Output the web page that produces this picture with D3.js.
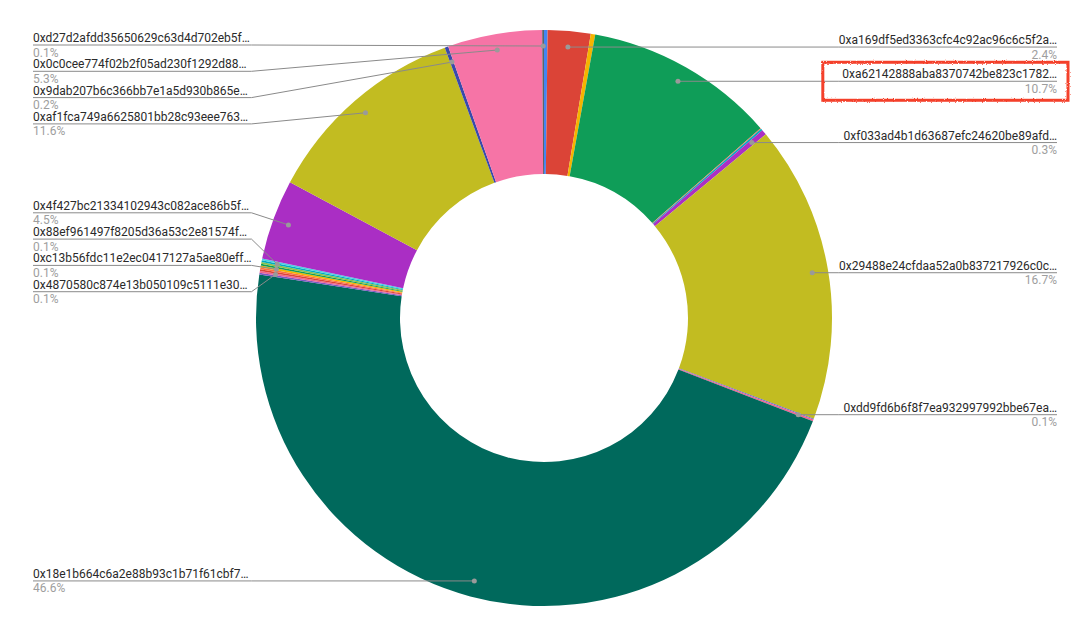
<!DOCTYPE html>
<html>
<head>
<meta charset="utf-8">
<script src="https://cdn.jsdelivr.net/npm/d3@7"></script>
<style>
    body { margin: 0; background: #fff; }
    text { font-family: Roboto, "Noto Sans", sans-serif; }
</style>
</head>
<body>
<svg id="chart" width="1087" height="638"></svg>
<script>
// slices in drawing order, clockwise from 12 o'clock; null = label not shown
const addresses = [
    null,
    "0xa169df5ed3363cfc4c92ac96c6c5f2a…",
    null,
    "0xa62142888aba8370742be823c1782…",
    null,
    null,
    "0xf033ad4b1d63687efc24620be89afd…",
    "0x29488e24cfdaa52a0b837217926c0c…",
    null,
    "0xdd9fd6b6f8f7ea932997992bbe67ea…",
    "0x18e1b664c6a2e88b93c1b71f61cbf7…",
    null,
    "0x4870580c874e13b050109c5111e30…",
    null,
    null,
    "0xc13b56fdc11e2ec0417127a5ae80eff…",
    null,
    null,
    "0x88ef961497f8205d36a53c2e81574f…",
    null,
    "0x4f427bc21334102943c082ace86b5f…",
    "0xaf1fca749a6625801bb28c93eee763…",
    "0x9dab207b6c366bb7e1a5d930b865e…",
    "0x0c0cee774f02b2f05ad230f1292d88…",
    "0xd27d2afdd35650629c63d4d702eb5f…"
];

const shares = [
    0.2, 2.4, 0.25, 10.7, 0.05, 0.1, 0.3, 16.7, 0.05, 0.1, 46.6,
    0.1, 0.1, 0.1, 0.1, 0.1, 0.1, 0.1, 0.1, 0.1,
    4.5, 11.6, 0.2, 5.3, 0.1
];

const palette = [
    "#4285f4", "#db4437", "#f4b400", "#0f9d58", "#ff7043", "#00acc1", "#ab30c4", "#c2bc21",
    "#5c6bc0", "#f06292", "#00695c",
    "#7e57c2", "#f06292", "#db4437", "#ff7043", "#f4b400", "#0f9d58", "#8bc34a", "#00acc1", "#4dd0e1",
    "#aa2ec4", "#c2bc21", "#3949ab", "#f674a6", "#5f6368"
];

let width = 1087, height = 638;
let cx = 544, cy = 318;
let rOuter = 288, rInner = 144, rDot = 272;
let gap = 26.3;
let leftX = 33, rightX = 1057;

let svg = d3.select("#chart");
let total = d3.sum(shares);

let slices = d3.pie().sort(null).value(d => d)(shares);
let arc = d3.arc().innerRadius(rInner).outerRadius(rOuter);

svg.append("g")
    .selectAll("path")
    .data(slices)
    .join("path")
    .attr("transform", `translate(${cx},${cy})`)
    .attr("d", arc)
    .style("fill", (d, i) => palette[i]);

// label anchors
let labels = [];
slices.forEach((d, i) => {
    if (addresses[i] == null) return;
    let a = (d.startAngle + d.endAngle) / 2;
    labels.push({
        name: addresses[i],
        pct: (shares[i] / total * 100).toFixed(1) + "%",
        dx: cx + rDot * Math.sin(a),
        dy: cy - rDot * Math.cos(a),
        side: a < Math.PI ? "right" : "left"
    });
});

// spread labels vertically so they don't overlap
function spread(items, minY) {
    items.sort((a, b) => a.dy - b.dy);
    let clusters = [];
    items.forEach(it => {
        clusters.push({ items: [it] });
        while (clusters.length > 1) {
            let cur = clusters[clusters.length - 1];
            let prev = clusters[clusters.length - 2];
            place(prev, minY); place(cur, minY);
            if (prev.top + prev.items.length * gap > cur.top) {
                prev.items = prev.items.concat(cur.items);
                clusters.pop();
            } else break;
        }
        place(clusters[clusters.length - 1], minY);
    });
    clusters.forEach(c => c.items.forEach((it, k) => it.ly = c.top + k * gap));
}

function place(c, minY) {
    let m = d3.mean(c.items, it => it.dy);
    // groups sit a little above their anchors' mean
    let shift = c.items.length > 1 ? 6 : 0;
    c.top = Math.max(minY, m - shift - (c.items.length - 1) * gap / 2);
}

let minY = cy - rOuter + 15;
spread(labels.filter(l => l.side == "left"), minY);
spread(labels.filter(l => l.side == "right"), minY);

let g_labels = svg.append("g");

let names = g_labels.selectAll(".name")
    .data(labels)
    .join("text")
    .classed("name", true)
    .attr("x", d => d.side == "left" ? leftX : rightX)
    .attr("y", d => d.ly - 3)
    .attr("text-anchor", d => d.side == "left" ? "start" : "end")
    .style("font-size", "12px")
    .style("fill", "#2a2a2a")
    .text(d => d.name);

g_labels.selectAll(".pct")
    .data(labels)
    .join("text")
    .classed("pct", true)
    .attr("x", d => d.side == "left" ? leftX : rightX)
    .attr("y", d => d.ly + 11.5)
    .attr("text-anchor", d => d.side == "left" ? "start" : "end")
    .style("font-size", "12px")
    .style("fill", "#9e9e9e")
    .text(d => d.pct);

let colW = { left: 0, right: 0 };
names.each(function(d) {
    colW[d.side] = Math.max(colW[d.side], this.getComputedTextLength());
});

g_labels.selectAll(".leader")
    .data(labels)
    .join("path")
    .classed("leader", true)
    .attr("d", d => {
        if (d.side == "left") {
            let bx = leftX + colW.left;
            return `M${leftX},${d.ly}H${bx}L${d.dx},${d.dy}`;
        }
        let bx = rightX - colW.right;
        return `M${d.dx},${d.dy}L${bx},${d.ly}H${rightX}`;
    })
    .style("fill", "none")
    .style("stroke", "#8a8a8a")
    .style("stroke-width", 1);

g_labels.selectAll(".dot")
    .data(labels)
    .join("circle")
    .classed("dot", true)
    .attr("cx", d => d.dx)
    .attr("cy", d => d.dy)
    .attr("r", 2.5)
    .style("fill", "#9a9a9a");

// hand-drawn highlight around the 10.7% label
let defs = svg.append("defs");
let rough = defs.append("filter").attr("id", "rough")
    .attr("x", "-5%").attr("y", "-30%").attr("width", "110%").attr("height", "160%");
rough.append("feTurbulence")
    .attr("type", "fractalNoise").attr("baseFrequency", 0.9)
    .attr("numOctaves", 2).attr("seed", 3).attr("result", "noise");
rough.append("feDisplacementMap")
    .attr("in", "SourceGraphic").attr("in2", "noise").attr("scale", 2.5);

let hl = labels.find(l => l.pct == "10.7%");
svg.append("rect")
    .attr("x", rightX - colW.right - 16)
    .attr("y", hl.ly - 19)
    .attr("width", colW.right + 27)
    .attr("height", 38)
    .attr("filter", "url(#rough)")
    .style("fill", "none")
    .style("stroke", "#f4402c")
    .style("stroke-width", 3);
</script>
</body>
</html>
